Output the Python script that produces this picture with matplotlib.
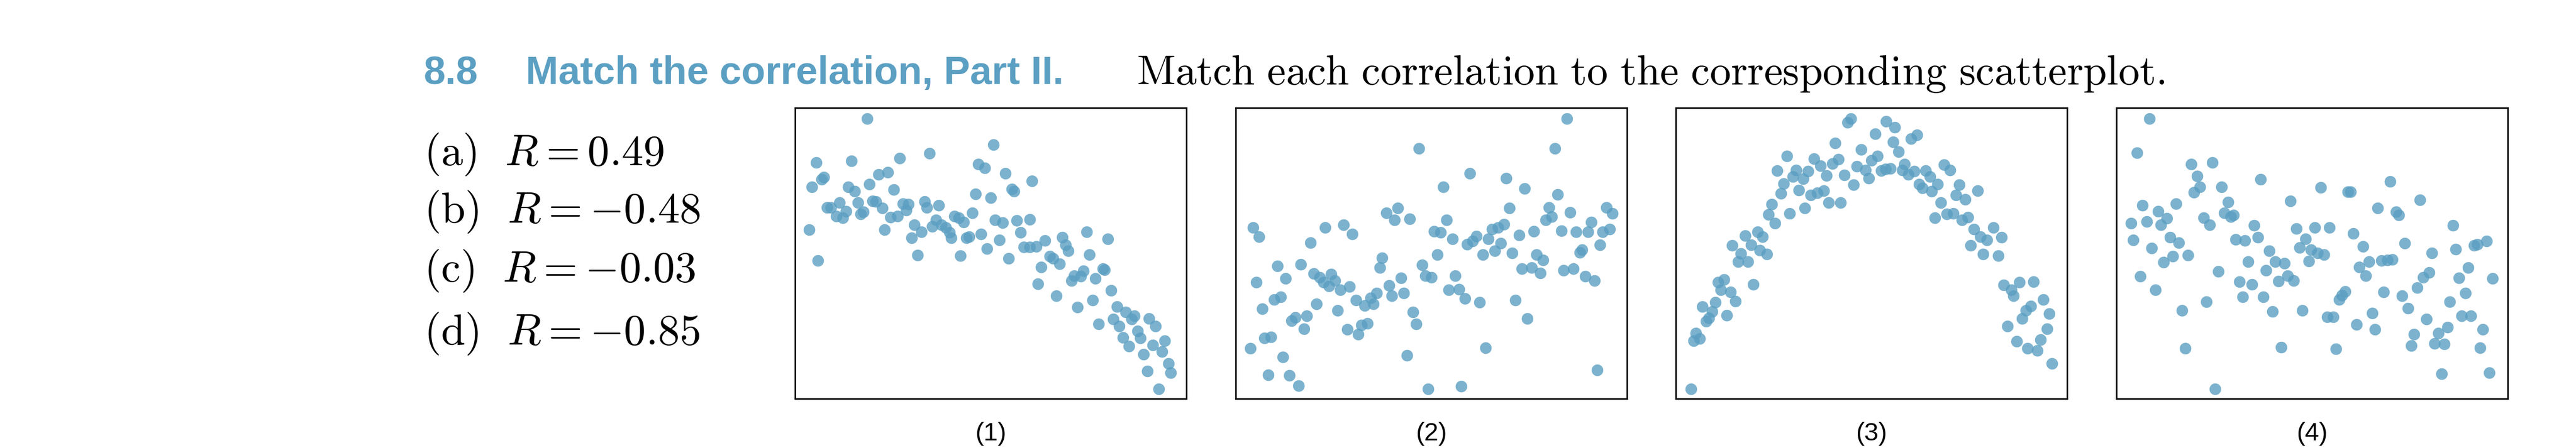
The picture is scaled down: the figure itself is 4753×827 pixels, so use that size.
import matplotlib
matplotlib.use("Agg")
import matplotlib.pyplot as plt

plt.rcParams['mathtext.fontset'] = 'cm'

# point positions (pixel units of each panel, y downwards)
x1 = [312,792,118,253,436,550,735,760,838,940,148,140,102,390,355,320,240,265,413,862,872,725,782,175,160,208,232,195,220,278,288,298,332,345,370,400,428,448,470,460,530,540,585,575,560,595,612,625,632,645,660,680,712,800,828,882,930,492,518,482,378,92,125,505,668,690,700,745,768,815,850,895,908,930,955,988,1008,1020,1045,975,962,1055,1068,1078,1148,1228,1158,1210,1215,1135,1100,1090,1125,1180,1240,1032,1112,1170,1192,1262,1295,1328,1318,1248,1272,1385,1410,1342,1352,1285,1308,1365,1400,1445,1435,1458,1468,1378,1422]
y1 = [85,220,312,305,290,265,320,340,368,408,388,400,438,362,375,425,438,462,452,450,462,475,495,545,545,520,565,590,600,520,580,570,512,515,550,598,590,525,530,560,515,545,535,612,645,635,650,675,705,590,600,622,575,612,625,615,608,635,672,705,662,662,822,795,798,705,698,685,760,715,812,675,752,752,750,718,800,810,840,855,942,700,740,770,672,710,792,865,870,875,900,925,905,915,978,1005,1065,1028,1152,1060,1090,1110,1125,1125,1162,1122,1162,1188,1225,1222,1268,1310,1262,1238,1295,1358,1405,1395,1488]

x2 = [1280,718,1235,912,1050,810,1120,1245,1062,1212,1430,1452,1292,595,638,625,682,822,1200,1222,1372,88,110,362,432,465,305,775,800,845,900,935,922,982,995,1018,1040,1028,1005,960,1098,1155,1258,1315,1360,1415,1442,1405,1338,1328,788,1072,1165,1190,578,570,730,180,270,100,212,318,340,385,398,355,375,420,455,742,765,855,650,605,615,660,558,535,545,478,512,1108,1145,1178,1268,1305,1350,1385,830,870,892,948,1085,1130,192,168,122,328,408,292,248,235,282,695,708,500,522,488,445,155,132,78,202,145,225,260,672,970,752,878,1395]
y2 = [85,238,240,368,393,440,448,478,548,545,545,578,572,575,550,610,605,612,612,595,622,650,698,650,635,685,728,670,675,708,738,695,722,710,660,650,632,732,770,790,690,670,668,672,672,672,660,740,765,780,790,782,792,820,808,860,845,850,842,935,915,890,910,892,925,935,955,975,958,902,910,900,912,952,1005,992,990,1015,1048,1028,1055,865,858,888,872,865,905,925,975,970,1020,1040,1028,1122,1012,1025,1072,1048,1082,1110,1118,1135,1178,1090,1152,1158,1148,1205,1180,1218,1225,1278,1322,1415,1418,1472,1315,1275,1488,1475,1392]

x3 = [82,92,115,102,140,150,162,125,175,218,252,232,195,185,208,320,262,298,272,240,312,288,335,355,345,370,402,378,390,458,515,425,435,492,538,562,588,605,652,410,448,470,482,508,528,550,575,598,620,642,630,665,700,712,745,758,730,768,792,782,678,690,825,858,850,872,805,822,840,885,895,908,932,918,942,975,990,950,962,998,1020,1045,1068,1102,1090,1125,1172,1032,1010,1055,1080,1112,1135,1158,1182,1208,1232,1262,1145,1192,1250,1272,1300,1330,1385,1308,1422,1375,1355,1342,1445,1285,1435,1412,1320,1362,1398,1455]
y3 = [1488,1240,1228,1198,1138,1120,1088,1060,1038,1105,1032,985,975,935,920,945,828,828,785,742,740,692,672,698,768,788,628,582,528,578,548,472,422,455,482,470,460,522,520,355,278,385,352,398,358,292,330,380,318,295,210,378,428,332,352,395,245,302,278,162,105,85,98,128,205,255,355,345,342,352,320,375,358,188,168,355,385,425,445,462,425,325,352,428,482,505,458,522,600,580,578,610,598,658,698,715,650,700,742,788,798,950,975,935,932,1005,1025,1058,1082,1122,1098,1162,1178,1232,1242,1278,1290,1358]

x4 = [155,108,315,395,338,348,325,430,578,808,912,922,1072,1185,692,455,258,130,188,222,200,85,145,362,385,440,465,475,1025,1095,1105,1312,555,715,785,842,932,235,268,95,165,485,520,568,750,728,770,795,820,762,968,1128,1232,1322,1392,1405,1440,612,635,670,532,600,682,705,648,498,545,210,245,302,418,120,178,955,992,980,1040,1062,1080,1220,1198,1175,1370,1335,1462,510,590,372,280,625,738,900,888,878,1048,1118,1140,1300,1358,1005,832,855,945,1015,1210,1345,1380,1290,1255,1162,1152,1242,1278,1425,1415,292,658,865,1268,1450,405]
y4 = [85,262,320,312,382,440,468,440,400,442,465,465,410,508,512,518,525,535,565,602,635,628,620,600,635,575,595,585,548,570,585,638,638,655,650,650,682,700,728,715,758,712,718,702,708,755,765,782,792,825,748,732,782,762,742,738,722,772,828,835,828,872,900,925,930,932,945,830,800,795,878,905,975,855,828,900,822,818,815,885,908,962,858,912,915,1012,1012,1035,1082,1088,1082,982,1002,1025,985,1005,1070,1035,992,1095,1115,1115,1155,1180,1125,1110,1108,1168,1198,1205,1265,1252,1255,1180,1275,1278,1272,1282,1410,1405,1488]

panel_labels = ['(1)', '(2)', '(3)', '(4)']
options = [r'$\mathrm{(a)}\ \ R = 0.49$', r'$\mathrm{(b)}\ \ R = -0.48$',
           r'$\mathrm{(c)}\ \ R = -0.03$', r'$\mathrm{(d)}\ \ R = -0.85$']

W, H = 4753, 828
fig = plt.figure(figsize=(W / 100, H / 100), dpi=100)

blue = '#5b9fc2'
panels = [(x1, y1, 1467, (38, 1527)), (x2, y2, 2280, (22, 1508)),
          (x3, y3, 3092, (25, 1512)), (x4, y4, 3905, (30, 1520))]
for (xs, ys, left, xl), lab in zip(panels, panel_labels):
    ax = fig.add_axes([left / W, 1 - 737 / H, 722 / W, 537 / H])
    ax.scatter(xs, ys, s=240, color=blue, alpha=0.8, linewidths=0)
    ax.set_xlim(xl)
    ax.set_ylim(1540, 28)
    ax.set_xticks([])
    ax.set_yticks([])
    for sp in ax.spines.values():
        sp.set_linewidth(2)
    ax.text(0.5, -0.12, lab, transform=ax.transAxes, ha='center', va='center',
            fontsize=34, family='Liberation Sans')

fig.text(782 / W, 0.836, '8.8', fontsize=52, weight='bold', color=blue,
         family='Liberation Sans', va='center')
fig.text(970 / W, 0.836, 'Match the correlation, Part II.', fontsize=52,
         weight='bold', color=blue, family='Liberation Sans', va='center')
fig.text(2097 / W, 0.836,
         r'$\mathrm{Match\ each\ correlation\ to\ the\ corresponding\ scatterplot.}$',
         fontsize=56, va='center')

for i, opt in enumerate(options):
    fig.text(782 / W, [0.656, 0.528, 0.396, 0.257][i], opt, fontsize=58, va='center')

fig.savefig('out.png', dpi=100)
